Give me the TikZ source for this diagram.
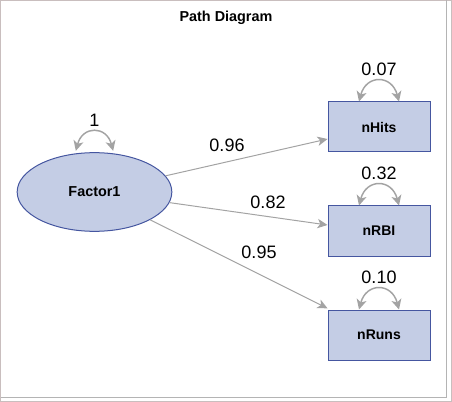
\documentclass[tikz,border=0pt]{standalone}
\usepackage{fontspec}
\setmainfont{Liberation Sans}
\usepackage{tikz}
\usetikzlibrary{shapes.geometric,arrows.meta}
\definecolor{boxfill}{HTML}{C4CDE5}
\definecolor{boxline}{HTML}{4556A0}
\definecolor{pathgray}{HTML}{A3A3A3}
\definecolor{framepink}{HTML}{C9BEBE}
\definecolor{framegray}{HTML}{B4B4B4}

\begin{document}
\begin{tikzpicture}[
    x=0.75pt, y=-0.75pt,
    latent/.style={ellipse,draw=boxline,fill=boxfill,line width=0.75pt,minimum width=116pt,minimum height=59pt,font=\fontsize{10.8}{12}\selectfont\bfseries},
    obs/.style={rectangle,draw=boxline,fill=boxfill,line width=0.75pt,minimum width=76.5pt,minimum height=37.5pt,font=\fontsize{10.5}{12}\selectfont\bfseries},
    coef/.style={text=black,font=\fontsize{13.5}{16}\selectfont},
    path/.style={pathgray,line width=0.75pt,-{Stealth[length=7.5pt,width=7pt,inset=2pt]}},
    loop/.style={pathgray,line width=1.1pt,{Stealth[length=7.5pt,width=7.5pt,inset=2pt]}-{Stealth[length=7.5pt,width=7.5pt,inset=2pt]}}
    ]
    \useasboundingbox (0,0) rectangle (452,402);
    \draw[framepink,line width=0.75pt] (0.5,0.5) rectangle (451.5,401.5);
    \draw[framegray,line width=0.75pt] (446.5,0.5) -- (446.5,397.5) -- (0.5,397.5);
    \node[font=\fontsize{10.8}{12}\selectfont\bfseries] (title) at (226,18) {Path Diagram};
    \node[latent] (f) at (94.5,192) {Factor1};
    \node[obs] (hits) at (379,127) {nHits};
    \node[obs] (rbi) at (379,231) {nRBI};
    \node[obs] (runs) at (379,335) {nRuns};
    \draw[path] (f) -- ([yshift=-9pt]hits.west);
    \draw[path] (f) -- ([yshift=4.5pt]rbi.west);
    \draw[path] (f) -- ([yshift=20pt]runs.west);
    \node[coef] (c1) at (227,145) {0.96};
    \node[coef] (c2) at (268,202) {0.82};
    \node[coef] (c3) at (259,252) {0.95};
    \draw[loop] ([xshift=-14pt,yshift=1pt]f.north) to[out=75,in=105,looseness=1.8] node[coef,above=0pt] (v0) {1} ([xshift=14pt,yshift=1pt]f.north);
    \draw[loop] ([xshift=-15pt]hits.north) to[out=75,in=105,looseness=1.8] node[coef,above=0pt] (v1) {0.07} ([xshift=15pt]hits.north);
    \draw[loop] ([xshift=-15pt]rbi.north) to[out=75,in=105,looseness=1.8] node[coef,above=0pt] (v2) {0.32} ([xshift=15pt]rbi.north);
    \draw[loop] ([xshift=-15pt]runs.north) to[out=75,in=105,looseness=1.8] node[coef,above=0pt] (v3) {0.10} ([xshift=15pt]runs.north);
\end{tikzpicture}
\end{document}
